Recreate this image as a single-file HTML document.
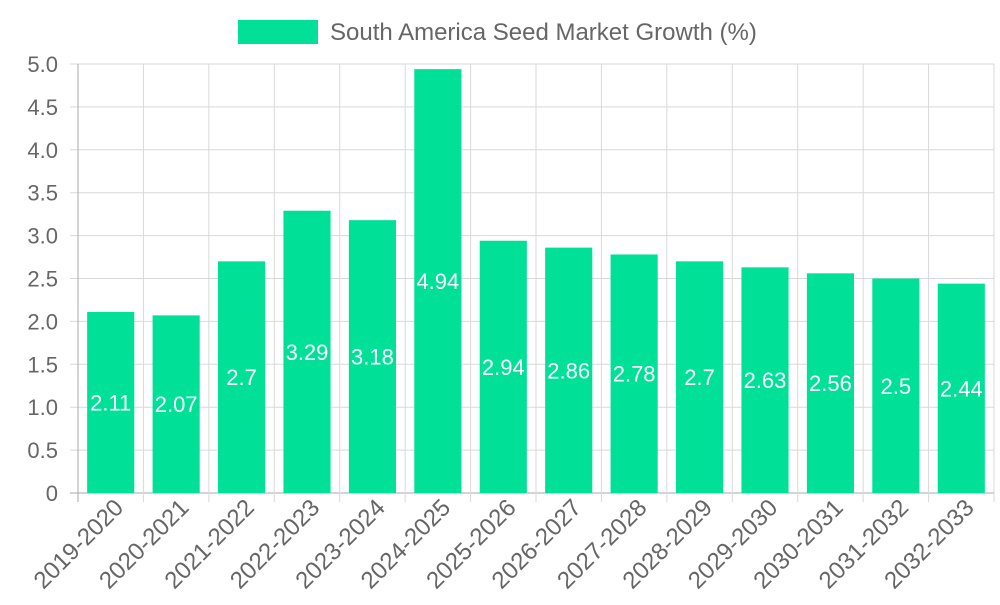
<!DOCTYPE html>
<html><head><meta charset="utf-8"><style>
body{margin:0;background:#fff;}
svg text{font-family:"Liberation Sans",sans-serif;}
</style></head><body>
<svg id="chart" width="1000" height="600">
<g id="legend">
<rect x="238" y="20" width="80" height="24" fill="#00e096"></rect>
<text x="330" y="40" font-size="24" fill="#666">South America Seed Market Growth (%)</text>
</g>
<g id="grid"></g><g id="bars"></g><g id="labels"></g>
</svg>
<script>
const categories=["2019-2020","2020-2021","2021-2022","2022-2023","2023-2024","2024-2025","2025-2026","2026-2027","2027-2028","2028-2029","2029-2030","2030-2031","2031-2032","2032-2033"];
const values=[2.11,2.07,2.7,3.29,3.18,4.94,2.94,2.86,2.78,2.7,2.63,2.56,2.5,2.44];
const yTicks=[0,0.5,1,1.5,2,2.5,3,3.5,4,4.5,5];
const yTickLabels=["0","0.5","1.0","1.5","2.0","2.5","3.0","3.5","4.0","4.5","5.0"];
const NS="http://www.w3.org/2000/svg";
const L=78,R=994,T=64,B=493,yMax=5;
const bw=(R-L)/categories.length;
const y=v=>B-(v/yMax)*(B-T);
const x=i=>L+i*bw;
function mk(t,a,p){const e=document.createElementNS(NS,t);for(const k in a)e.setAttribute(k,a[k]);p.appendChild(e);return e;}
const grid=document.getElementById('grid'),bars=document.getElementById('bars'),labels=document.getElementById('labels');
yTicks.forEach((v,i)=>{
 const ln=mk('line',{x1:70,x2:R,y1:y(v),y2:y(v),stroke:i==0?'#aaa':'#d9d9d9','stroke-width':1},grid);
 
 
 const t=mk('text',{x:58,y:y(v)+8,'font-size':22,fill:'#666','text-anchor':'end'},grid);
 t.textContent=yTickLabels[i];
 
 
});
for(let i=0;i<=categories.length;i++){
 const ln=mk('line',{x1:x(i),x2:x(i),y1:T,y2:B+9,stroke:i==0?'#aaa':'#d9d9d9','stroke-width':1},grid);
 
 
}
categories.forEach((c,i)=>{
 const w=bw*0.72,cx=x(i)+bw/2;
 const r=mk('rect',{x:cx-w/2,y:y(values[i]),width:w,height:B-y(values[i]),fill:'#00e096'},bars);
 
 
 const vt=mk('text',{x:cx,y:(y(values[i])+B)/2+8,'font-size':22,fill:'#fff','text-anchor':'middle'},labels);
 vt.textContent=String(values[i]);
 
 
 const ax=cx+14,ay=B+16;
 const xt=mk('text',{x:ax,y:ay,'font-size':24,fill:'#666','text-anchor':'end',transform:`rotate(-45 ${ax} ${ay})`},labels);
 xt.textContent=c;
 
 
});
</script>
</body></html>
